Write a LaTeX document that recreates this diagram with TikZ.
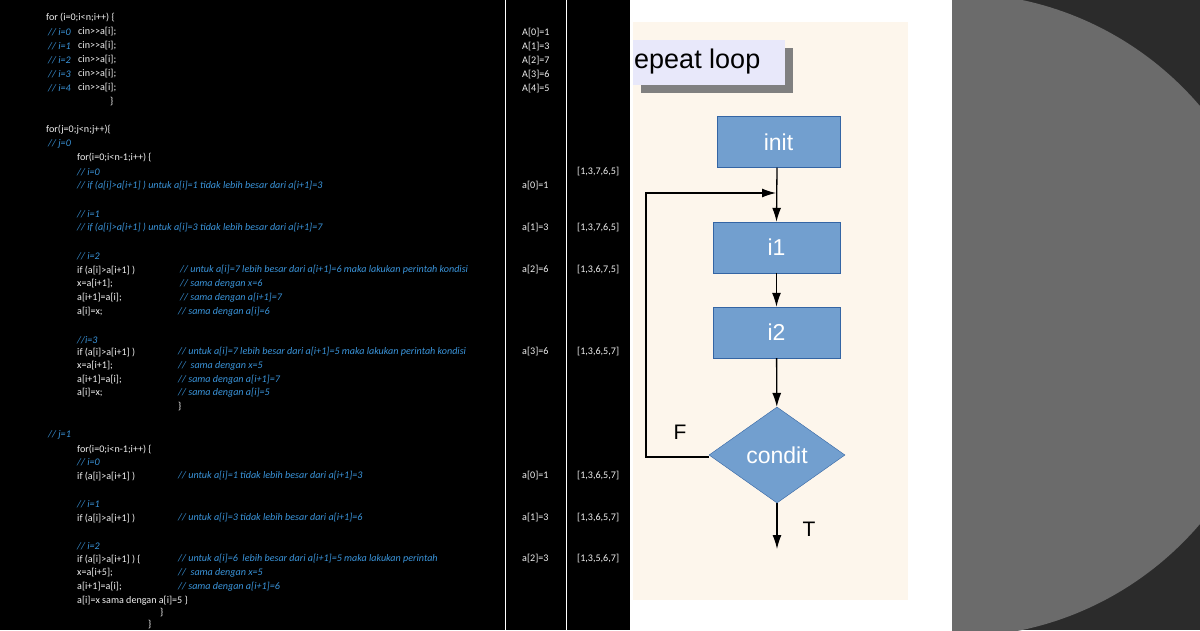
\documentclass[tikz,border=0pt]{standalone}
\usepackage{fontspec}
\setmainfont{Carlito}
\newfontfamily\fsans{Liberation Sans}
\usetikzlibrary{shapes.geometric,arrows.meta}
\definecolor{codew}{HTML}{F0F0F0}
\definecolor{codeb}{HTML}{3A94DA}
\definecolor{boxf}{HTML}{729FCF}
\definecolor{boxd}{HTML}{3465A4}
\definecolor{beige}{HTML}{FDF6EC}
\definecolor{dgray}{HTML}{2B2B2B}
\definecolor{lgray}{HTML}{6B6B6B}
\definecolor{lav}{HTML}{E8E8FA}
\definecolor{shad}{HTML}{808080}
\tikzset{
  cw/.style={anchor=west,inner sep=0pt,text=codew,font=\fontsize{10.1}{11}\selectfont},
  cb/.style={anchor=west,inner sep=0pt,text=codeb,font=\fontsize{10.1}{11}\selectfont\itshape},
  fbox/.style={draw=boxd,fill=boxf,text=white,font=\fsans\fontsize{23}{26}\selectfont,minimum width=125pt,minimum height=51pt,inner sep=0pt},
  arr/.style={-{Latex[length=14pt,width=9pt]},line width=1.3pt}}
\begin{document}
\begin{tikzpicture}[x=1pt,y=-1pt]
\useasboundingbox (0,0) rectangle (1200,630);
\fill[black] (0,0) rectangle (630,630);
\fill[dgray] (952,0) rectangle (1200,630);
\begin{scope}
\clip (952,0) rectangle (1200,630);
\fill[lgray] (955,315) circle (322);
\end{scope}
\fill[white] (630,0) rectangle (952,630);
\fill[beige] (633,22) rectangle (908,600);
\draw[white,line width=1pt] (505,0) -- (505,630) (566,0) -- (566,630);
\fill[shad] (641,48) rectangle (793,93);
\fill[lav] (633,40) rectangle (785,85);
\node[anchor=west,inner sep=0pt,font=\fsans\fontsize{27}{30}\selectfont] (title) at (634,62) {epeat loop};
\node[fbox,minimum width=123pt] (init) at (778.5,142) {init};
\node[fbox,minimum width=127pt] (i1) at (776.5,247.5) {i1};
\node[fbox,minimum width=127pt] (i2) at (776.5,332.5) {i2};
\node[diamond,draw=boxd,fill=boxf,text=white,font=\fsans\fontsize{23}{26}\selectfont,minimum width=136pt,minimum height=96pt,inner sep=0pt] (cond) at (777,455) {condit};
\coordinate (loopin) at (777,193);
\coordinate (c2) at (646,193);
\coordinate (tend) at (777,549);
\draw[arr] ([xshift=-1.5pt]init.south) -- (i1.north);
\draw[arr] (i1) -- (i2);
\draw[arr] (i2) -- (cond);
\draw[arr] (cond) -- (tend);
\draw[line width=1.3pt] ([yshift=-2pt]cond.west) -| (c2) -- ([xshift=-22pt]loopin);
\draw[arr] ([xshift=-22pt]loopin) -- ([xshift=-1pt]loopin);
\node[font=\fsans\fontsize{21}{24}\selectfont] (F) at (680,432) {F};
\node[font=\fsans\fontsize{21}{24}\selectfont] (T) at (809,529) {T};
\node[cw] at (46,18) {for (i=0;i<n;i++) \{};
\foreach \k/\y in {0/32,1/46,2/60,3/74,4/88}{\node[cb] at (48,\y) {// i=\k}; \node[cw] at (78,\y) {cin{>}{>}a[i];};}
\node[cw] at (110,102) {\}};
\node[cw] at (46,130) {for(j=0;j<n;j++)\{};
\node[cb] at (48,144) {// j=0};
\node[cw] at (77,158) {for(i=0;i<n-1;i++) \{};
\node[cb] at (77,172) {// i=0};
\node[cb] at (77,186) {// if (a[i]>a[i+1] ) untuk a[i]=1 tidak lebih besar dari a[i+1]=3};
\node[cb] at (77,214) {// i=1};
\node[cb] at (77,228) {// if (a[i]>a[i+1] ) untuk a[i]=3 tidak lebih besar dari a[i+1]=7};
\node[cb] at (77,256) {// i=2};
\node[cw] at (77,270) {if (a[i]>a[i+1] )};
\node[cb] at (180,270) {// untuk a[i]=7 lebih besar dari a[i+1]=6 maka lakukan perintah kondisi};
\node[cw] at (77,284) {x=a[i+1];}; \node[cb] at (180,284) {// sama dengan x=6};
\node[cw] at (77,298) {a[i+1]=a[i];}; \node[cb] at (180,298) {// sama dengan a[i+1]=7};
\node[cw] at (77,312) {a[i]=x;}; \node[cb] at (178,312) {// sama dengan a[i]=6};
\node[cb] at (77,340) {//i=3};
\node[cw] at (77,352) {if (a[i]>a[i+1] )};
\node[cb] at (178,352) {// untuk a[i]=7 lebih besar dari a[i+1]=5 maka lakukan perintah kondisi};
\node[cw] at (77,366) {x=a[i+1];}; \node[cb] at (178,366) {//\ \ sama dengan x=5};
\node[cw] at (77,380) {a[i+1]=a[i];}; \node[cb] at (178,380) {// sama dengan a[i+1]=7};
\node[cw] at (77,393) {a[i]=x;}; \node[cb] at (178,393) {// sama dengan a[i]=5};
\node[cw] at (178,407) {\}};
\node[cb] at (48,435) {// j=1};
\node[cw] at (77,449) {for(i=0;i<n-1;i++) \{};
\node[cb] at (77,462) {// i=0};
\node[cw] at (77,476) {if (a[i]>a[i+1] )}; \node[cb] at (178,476) {// untuk a[i]=1 tidak lebih besar dari a[i+1]=3};
\node[cb] at (77,504) {// i=1};
\node[cw] at (77,518) {if (a[i]>a[i+1] )}; \node[cb] at (178,518) {// untuk a[i]=3 tidak lebih besar dari a[i+1]=6};
\node[cb] at (77,546) {// i=2};
\node[cw] at (77,559) {if (a[i]>a[i+1] ) \{}; \node[cb] at (178,559) {// untuk a[i]=6\ \ lebih besar dari a[i+1]=5 maka lakukan perintah};
\node[cw] at (77,573) {x=a[i+5];}; \node[cb] at (178,573) {//\ \ sama dengan x=5};
\node[cw] at (77,587) {a[i+1]=a[i];}; \node[cb] at (178,587) {// sama dengan a[i+1]=6};
\node[cw] at (77,601) {a[i]=x sama dengan a[i]=5 \}};
\node[cw] at (160,613) {\}};
\node[cw] at (148,625) {\}};
\foreach \k/\v/\y in {0/1/33,1/3/47,2/7/61,3/6/75,4/5/89}{\node[cw] at (522,\y) {A[\k]=\v};}
\node[cw] at (522,186) {a[0]=1}; \node[cw] at (577,172) {[1,3,7,6,5]};
\node[cw] at (522,228) {a[1]=3}; \node[cw] at (577,228) {[1,3,7,6,5]};
\node[cw] at (522,270) {a[2]=6}; \node[cw] at (577,270) {[1,3,6,7,5]};
\node[cw] at (522,352) {a[3]=6}; \node[cw] at (577,352) {[1,3,6,5,7]};
\node[cw] at (522,476) {a[0]=1}; \node[cw] at (577,476) {[1,3,6,5,7]};
\node[cw] at (522,518) {a[1]=3}; \node[cw] at (577,518) {[1,3,6,5,7]};
\node[cw] at (522,559) {a[2]=3}; \node[cw] at (577,559) {[1,3,5,6,7]};
\end{tikzpicture}
\end{document}
